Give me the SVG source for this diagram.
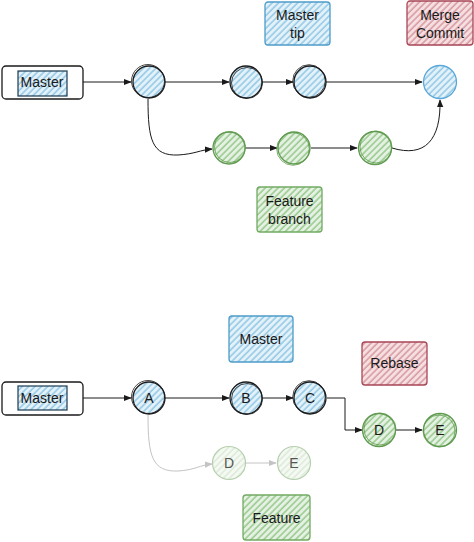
<svg xmlns="http://www.w3.org/2000/svg" width="474" height="542" viewBox="0 0 474 542">
<style>
text{font-family:"Liberation Sans",Arial,sans-serif;font-size:14px;fill:#1a1a1a;text-anchor:middle}
.conn{fill:none;stroke:#1a1a1a;stroke-width:1}
.faint{fill:none;stroke:#c4c4c4;stroke-width:1}
.cb{stroke:#1a1a1a;stroke-width:1.3;fill:url(#hb)}
.cb2{stroke:#1a1a1a;stroke-width:0.8;fill:none}
.cg{stroke:#5f9a4f;stroke-width:1.3;fill:url(#hg)}
.cg2{stroke:#5f9a4f;stroke-width:0.8;fill:none}
.cf{stroke:#b5cfae;stroke-width:1.2;fill:url(#hf)}
.cm{stroke:#5aa8d8;stroke-width:1.3;fill:url(#hb)}
.boxb{stroke:#4e9cc9;stroke-width:1.3;fill:url(#hb)}
.boxg{stroke:#72aa63;stroke-width:1.3;fill:url(#hg)}
.boxr{stroke:#a84656;stroke-width:1.3;fill:url(#hr)}
.outer{stroke:#1a1a1a;stroke-width:1.3;fill:#fff}
.inner{stroke:#1a3a50;stroke-width:1.2;fill:url(#hb)}
.ftext{fill:#555}
</style>
<defs>
<pattern id="hb" width="4.5" height="4.5" patternUnits="userSpaceOnUse" patternTransform="rotate(45)"><rect width="4.5" height="4.5" fill="#e3f1f9"/><line x1="1" y1="0" x2="1" y2="4.5" stroke="#8cc5e4" stroke-width="1.4"/></pattern>
<pattern id="hg" width="4.5" height="4.5" patternUnits="userSpaceOnUse" patternTransform="rotate(45)"><rect width="4.5" height="4.5" fill="#e5f1e2"/><line x1="1" y1="0" x2="1" y2="4.5" stroke="#92c686" stroke-width="1.4"/></pattern>
<pattern id="hf" width="4.5" height="4.5" patternUnits="userSpaceOnUse" patternTransform="rotate(45)"><rect width="4.5" height="4.5" fill="#f5f9f3"/><line x1="1" y1="0" x2="1" y2="4.5" stroke="#dbe9d6" stroke-width="1.4"/></pattern>
<pattern id="hr" width="4.5" height="4.5" patternUnits="userSpaceOnUse" patternTransform="rotate(45)"><rect width="4.5" height="4.5" fill="#f6dfe0"/><line x1="1" y1="0" x2="1" y2="4.5" stroke="#d4939d" stroke-width="1.4"/></pattern>
<marker id="ar" viewBox="0 0 10 10" refX="9" refY="5" markerWidth="8" markerHeight="8" markerUnits="userSpaceOnUse" orient="auto"><path d="M0,1 L10,5 L0,9 Z" fill="#1a1a1a"/></marker>
<marker id="arf" viewBox="0 0 10 10" refX="9" refY="5" markerWidth="8" markerHeight="8" markerUnits="userSpaceOnUse" orient="auto"><path d="M0,1 L10,5 L0,9 Z" fill="#c4c4c4"/></marker>
</defs>

<g id="connectors">
<path class="conn" d="M83,82 L131,82" marker-end="url(#ar)"/>
<path class="conn" d="M165,82 L229,82" marker-end="url(#ar)"/>
<path class="conn" d="M262,82 L293,82" marker-end="url(#ar)"/>
<path class="conn" d="M326,82 L422,82" marker-end="url(#ar)"/>
<path class="conn" d="M148,99 C148,140 152,156 178,155 C195,154 200,150 212,149" marker-end="url(#ar)"/>
<path class="conn" d="M245,148 L277,148" marker-end="url(#ar)"/>
<path class="conn" d="M311,148 L357,148" marker-end="url(#ar)"/>
<path class="conn" d="M392,148 C425,158 441,140 440,100" marker-end="url(#ar)"/>
<path class="conn" d="M83,398 L131,398" marker-end="url(#ar)"/>
<path class="conn" d="M165,398 L229,398" marker-end="url(#ar)"/>
<path class="conn" d="M262,398 L293,398" marker-end="url(#ar)"/>
<path class="conn" d="M327,398 L345,398 L345,430 L362,430" marker-end="url(#ar)"/>
<path class="conn" d="M396,430 L422,430" marker-end="url(#ar)"/>
<path class="faint" d="M148,415 C148,456 152,472 178,471 C195,470 200,465 212,464" marker-end="url(#arf)"/>
<path class="faint" d="M245,463 L276,463" marker-end="url(#arf)"/>
</g>

<g id="master-top">
<rect class="outer" x="2" y="66" width="81" height="33" rx="4"/>
<rect class="inner" x="18" y="71" width="49" height="25"/>
<text x="42" y="87">Master</text>
</g>
<g id="c1"><circle class="cb" cx="149" cy="82" r="16"/><circle class="cb2" cx="148" cy="81" r="16.5"/></g>
<g id="c2"><circle class="cb" cx="246" cy="82" r="16"/><circle class="cb2" cx="247" cy="83" r="15.5"/></g>
<g id="c3"><circle class="cb" cx="310" cy="82" r="16"/><circle class="cb2" cx="309" cy="81" r="16.3"/></g>
<g id="merge"><circle class="cm" cx="440" cy="82" r="16.5"/></g>
<g id="g1"><circle class="cg" cx="229" cy="148" r="16"/><circle class="cg2" cx="230" cy="147" r="15.5"/></g>
<g id="g2"><circle class="cg" cx="294" cy="148" r="16"/><circle class="cg2" cx="293" cy="149" r="16.3"/></g>
<g id="g3"><circle class="cg" cx="375" cy="148" r="16.5"/><circle class="cg2" cx="376" cy="147" r="16"/></g>
<g id="master-tip">
<rect class="boxb" x="265" y="2" width="65" height="43" rx="3"/>
<text x="297.5" y="20">Master</text>
<text x="297.5" y="38">tip</text>
</g>
<g id="merge-commit">
<rect class="boxr" x="407" y="1" width="66" height="44" rx="3"/>
<text x="440" y="20">Merge</text>
<text x="440" y="38">Commit</text>
</g>
<g id="feature-branch">
<rect class="boxg" x="257" y="187" width="65" height="45" rx="3"/>
<text x="289.5" y="206">Feature</text>
<text x="289.5" y="224">branch</text>
</g>

<g id="master-bottom">
<rect class="outer" x="2" y="382" width="81" height="33" rx="4"/>
<rect class="inner" x="18" y="386" width="49" height="24"/>
<text x="42" y="403">Master</text>
</g>
<g id="A"><circle class="cb" cx="149" cy="398" r="16"/><circle class="cb2" cx="148" cy="397" r="16.5"/><text x="149" y="403">A</text></g>
<g id="B"><circle class="cb" cx="246" cy="398" r="16"/><circle class="cb2" cx="247" cy="399" r="15.5"/><text x="246" y="403">B</text></g>
<g id="C"><circle class="cb" cx="310" cy="398" r="16"/><circle class="cb2" cx="309" cy="397" r="16.3"/><text x="310" y="403">C</text></g>
<g id="D"><circle class="cg" cx="379" cy="430" r="16.5"/><circle class="cg2" cx="380" cy="429" r="16"/><text x="379" y="435">D</text></g>
<g id="E"><circle class="cg" cx="440" cy="430" r="16.5"/><circle class="cg2" cx="439" cy="431" r="16"/><text x="440" y="435">E</text></g>
<g id="D-old"><circle class="cf" cx="229" cy="463" r="16.5"/><text class="ftext" x="229" y="468">D</text></g>
<g id="E-old"><circle class="cf" cx="294" cy="463" r="16.5"/><text class="ftext" x="294" y="468">E</text></g>
<g id="master-label">
<rect class="boxb" x="229" y="316" width="64" height="46" rx="3"/>
<text x="261" y="344">Master</text>
</g>
<g id="rebase">
<rect class="boxr" x="362" y="342" width="65" height="43" rx="3"/>
<text x="394.5" y="368">Rebase</text>
</g>
<g id="feature">
<rect class="boxg" x="243" y="495" width="67" height="45" rx="3"/>
<text x="276.5" y="523">Feature</text>
</g>
</svg>
